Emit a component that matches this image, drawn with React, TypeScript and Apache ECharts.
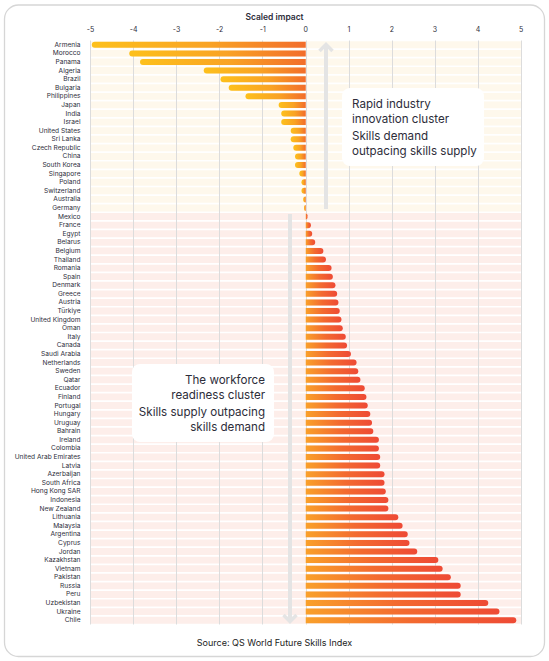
import { useEffect, useRef } from "react"
import * as echarts from "echarts"

const countries = [
  "Armenia", "Morocco", "Panama", "Algeria", "Brazil", "Bulgaria", "Philippines", "Japan", "India", "Israel",
  "United States", "Sri Lanka", "Czech Republic", "China", "South Korea", "Singapore", "Poland", "Switzerland",
  "Australia", "Germany", "Mexico", "France", "Egypt", "Belarus", "Belgium", "Thailand", "Romania", "Spain",
  "Denmark", "Greece", "Austria", "Türkiye", "United Kingdom", "Oman", "Italy", "Canada", "Saudi Arabia",
  "Netherlands", "Sweden", "Qatar", "Ecuador", "Finland", "Portugal", "Hungary", "Uruguay", "Bahrain", "Ireland",
  "Colombia", "United Arab Emirates", "Latvia", "Azerbaijan", "South Africa", "Hong Kong SAR", "Indonesia",
  "New Zealand", "Lithuania", "Malaysia", "Argentina", "Cyprus", "Jordan", "Kazakhstan", "Vietnam", "Pakistan",
  "Russia", "Peru", "Uzbekistan", "Ukraine", "Chile",
]

const impact = [
  -4.97, -4.1, -3.85, -2.37, -1.98, -1.79, -1.4, -0.63, -0.57, -0.57,
  -0.35, -0.35, -0.29, -0.25, -0.25, -0.15, -0.1, -0.1,
  -0.06, -0.04, 0.04, 0.12, 0.15, 0.22, 0.41, 0.47, 0.6, 0.63,
  0.69, 0.73, 0.76, 0.79, 0.83, 0.86, 0.93, 0.96, 1.05,
  1.18, 1.22, 1.27, 1.37, 1.41, 1.44, 1.5, 1.54, 1.57, 1.7,
  1.7, 1.73, 1.73, 1.83, 1.83, 1.86, 1.92,
  1.92, 2.15, 2.25, 2.37, 2.41, 2.59, 3.08, 3.18, 3.37,
  3.6, 3.6, 4.24, 4.5, 4.89,
]

const axisMin = -5
const axisMax = 5

const FONT = "Inter, 'Noto Sans', sans-serif"
const TEXT = "#2d2d3a"
const ARROW = "#e4e4e4"

export default function App() {
  const chartRef = useRef<HTMLDivElement>(null)

  useEffect(() => {
    if (!chartRef.current) return
    const chart = echarts.init(chartRef.current, null, { renderer: "svg" })

    const negData = impact.map((v) => (v < 0 ? v : "-"))
    const posData = impact.map((v) => (v >= 0 ? v : "-"))

    const option = {
      animation: false,
      backgroundColor: "#ffffff",
      textStyle: { fontFamily: FONT },
      title: {
        text: "Scaled impact",
        left: "center",
        top: 7,
        textStyle: { fontFamily: FONT, fontSize: 8.5, fontWeight: 600, color: TEXT },
      },
      grid: { left: 90.5, right: 28, top: 40.5, bottom: 36.5, outerBoundsMode: "none" },
      xAxis: {
        type: "value",
        position: "top",
        min: axisMin,
        max: axisMax,
        interval: 1,
        z: 3,
        axisLine: { show: false },
        axisTick: { show: false },
        axisLabel: { fontSize: 7, color: TEXT, margin: 8, fontFamily: FONT },
        splitLine: { show: true, lineStyle: { color: "#dcdcdc", width: 1 } },
      },
      yAxis: {
        type: "category",
        data: countries,
        inverse: true,
        axisLine: { show: false },
        axisTick: { show: false },
        axisLabel: { fontSize: 6.6, color: TEXT, margin: 10, fontFamily: FONT, interval: 0 },
      },
      series: [
        {
          type: "custom",
          z: 1,
          silent: true,
          data: countries.map((c, i) => [0, i]),
          encode: { x: 0, y: 1 },
          renderItem: (params: any, api: any) => {
            const idx = api.value(1)
            const start = api.coord([axisMin, idx])
            const end = api.coord([axisMax, idx])
            const h = api.size([0, 1])[1] * 0.8
            return {
              type: "rect",
              shape: { x: start[0], y: start[1] - h / 2, width: end[0] - start[0], height: h },
              style: { fill: impact[idx] < 0 ? "#fef8ec" : "#fdeeea" },
            }
          },
        },
        {
          type: "bar",
          z: 4,
          data: negData,
          barWidth: 6,
          barGap: "-100%",
          itemStyle: {
            borderRadius: [3, 0, 0, 3],
            color: new echarts.graphic.LinearGradient(0, 0, 1, 0, [
              { offset: 0, color: "#fdc01c" },
              { offset: 0.55, color: "#f9a324" },
              { offset: 1, color: "#f26d2b" },
            ]),
          },
        },
        {
          type: "bar",
          z: 4,
          data: posData,
          barWidth: 6,
          barGap: "-100%",
          itemStyle: {
            borderRadius: [0, 3, 3, 0],
            color: new echarts.graphic.LinearGradient(0, 0, 1, 0, [
              { offset: 0, color: "#f9a02a" },
              { offset: 0.5, color: "#f36a30" },
              { offset: 1, color: "#ee4a35" },
            ]),
          },
        },
      ],
      graphic: [
        {
          type: "rect",
          z: -10,
          silent: true,
          shape: { x: 4.5, y: 5, width: 540, height: 651.5, r: 14 },
          style: { fill: "none", stroke: "#d6d6d6", lineWidth: 1.3 },
        },
        // up arrow
        {
          type: "line",
          z: 5,
          shape: { x1: 326, y1: 46, x2: 326, y2: 209 },
          style: { stroke: ARROW, lineWidth: 4 },
        },
        {
          type: "polyline",
          z: 5,
          shape: { points: [[319.5, 51], [326, 44.5], [332.5, 51]] },
          style: { stroke: ARROW, lineWidth: 3.5, fill: "none" },
        },
        // down arrow
        {
          type: "line",
          z: 5,
          shape: { x1: 290, y1: 214, x2: 290, y2: 620 },
          style: { stroke: ARROW, lineWidth: 4 },
        },
        {
          type: "polyline",
          z: 5,
          shape: { points: [[283.5, 615], [290, 621.5], [296.5, 615]] },
          style: { stroke: ARROW, lineWidth: 3.5, fill: "none" },
        },
        // top annotation
        {
          type: "rect",
          z: 6,
          shape: { x: 342, y: 88, width: 142, height: 78, r: 8 },
          style: { fill: "#ffffff" },
        },
        {
          type: "text",
          z: 7,
          x: 352,
          y: 96,
          style: {
            text: "Rapid industry\ninnovation cluster",
            fontFamily: FONT,
            fontSize: 11.6,
            lineHeight: 15.5,
            fill: TEXT,
            textAlign: "left",
          },
        },
        {
          type: "text",
          z: 7,
          x: 352,
          y: 128,
          style: {
            text: "Skills demand\noutpacing skills supply",
            fontFamily: FONT,
            fontSize: 11.6,
            lineHeight: 15.5,
            fill: TEXT,
            textAlign: "left",
          },
        },
        // bottom annotation
        {
          type: "rect",
          z: 6,
          shape: { x: 132, y: 364, width: 142, height: 78, r: 8 },
          style: { fill: "#ffffff" },
        },
        {
          type: "text",
          z: 7,
          x: 265,
          y: 373,
          style: {
            text: "The workforce\nreadiness cluster",
            fontFamily: FONT,
            fontSize: 11.6,
            lineHeight: 14.5,
            fill: TEXT,
            textAlign: "right",
          },
        },
        {
          type: "text",
          z: 7,
          x: 265,
          y: 405,
          style: {
            text: "Skills supply outpacing\nskills demand",
            fontFamily: FONT,
            fontSize: 11.6,
            lineHeight: 14.5,
            fill: TEXT,
            textAlign: "right",
          },
        },
        {
          type: "text",
          z: 7,
          x: 274.5,
          y: 642,
          style: {
            text: "Source: QS World Future Skills Index",
            fontFamily: FONT,
            fontSize: 9,
            fill: "#222222",
            textAlign: "center",
            textVerticalAlign: "middle",
          },
        },
      ],
    }

    chart.setOption(option)

    return () => {
      chart.dispose()
    }
  }, [])

  return (
    <div
      ref={chartRef}
      style={{ position: "fixed", left: 0, top: 0, width: 549, height: 661 }}
    />
  )
}
